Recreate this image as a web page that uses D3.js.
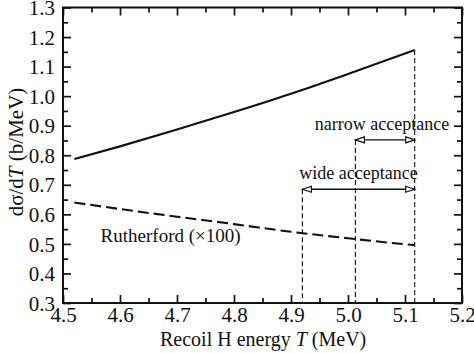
<!DOCTYPE html>
<html>
<head>
<meta charset="utf-8">
<script src="https://cdn.jsdelivr.net/npm/d3@7"></script>
<style>
  html, body { margin: 0; padding: 0; background: #fff; }
  svg { display: block; }
  text { font-family: "Liberation Serif", "Times New Roman", serif; fill: #111; }
</style>
</head>
<body>
<svg id="chart" width="474" height="353"></svg>
<script>
// ---- data ----
const energyT = [4.52, 4.6, 4.7, 4.8, 4.9, 5.0, 5.1, 5.117];
const crossSection = [0.787, 0.830, 0.887, 0.946, 1.008, 1.075, 1.144, 1.156];
const rutherfordX100 = [0.640, 0.618, 0.592, 0.567, 0.541, 0.519, 0.499, 0.496];
const xTicks = [4.5, 4.6, 4.7, 4.8, 4.9, 5.0, 5.1, 5.2];
const yTicks = [0.3, 0.4, 0.5, 0.6, 0.7, 0.8, 0.9, 1.0, 1.1, 1.2, 1.3];
const acceptances = [
  { label: "narrow acceptance", from: 5.013, to: 5.117, level: 0.852 },
  { label: "wide acceptance", from: 4.92, to: 5.117, level: 0.685 }
];
const rutherfordLabel = "Rutherford (\u00d7100)";
const rutherfordLabelPos = [4.566, 0.505];

// ---- layout ----
const W = 474, H = 353;
const m = { left: 63, right: 12, top: 7.5, bottom: 50 };
const svg = d3.select("#chart");
const x = d3.scaleLinear().domain([4.5, 5.2]).range([m.left, W - m.right]);
const y = d3.scaleLinear().domain([0.3, 1.3]).range([H - m.bottom, m.top]);

const minorX = d3.range(4.55, 5.2, 0.1);
const minorY = d3.range(0.35, 1.3, 0.1);
const fontTick = 21;

// axes (inward ticks)
function drawAxis(axisGen, transform, ticks, minor, showLabels) {
  const g = svg.append("g").attr("transform", transform);
  g.call(axisGen.tickValues(ticks).tickSizeInner(-8).tickSizeOuter(0)
    .tickFormat(showLabels ? d3.format(".1f") : () => ""));
  g.select(".domain").remove();
  g.selectAll(".tick line").attr("stroke", "#111").attr("stroke-width", 1.7);
  g.selectAll(".tick text").attr("font-size", fontTick)
    .attr("font-family", "Liberation Serif").attr("fill", "#111");
  const g2 = svg.append("g").attr("transform", transform);
  g2.call(axisGen.tickValues(minor).tickSizeInner(-5).tickSizeOuter(0).tickFormat(() => ""));
  g2.select(".domain").remove();
  g2.selectAll(".tick line").attr("stroke", "#111").attr("stroke-width", 1.7);
  return g;
}
const gx = drawAxis(d3.axisBottom(x), `translate(0,${H - m.bottom})`, xTicks, minorX, true);
gx.selectAll(".tick text").attr("dy", null).attr("y", 19);
drawAxis(d3.axisTop(x), `translate(0,${m.top})`, xTicks, minorX, false);
const gy = drawAxis(d3.axisLeft(y), `translate(${m.left},0)`, yTicks, minorY, true);
gy.selectAll(".tick text").attr("x", -8).attr("dy", "0.34em");
drawAxis(d3.axisRight(y), `translate(${W - m.right},0)`, yTicks, minorY, false);

// frame
svg.append("rect")
  .attr("x", m.left).attr("y", m.top)
  .attr("width", W - m.left - m.right).attr("height", H - m.top - m.bottom)
  .attr("fill", "none").attr("stroke", "#111").attr("stroke-width", 2);

// curves
const line = d3.line().x(d => x(d[0])).y(d => y(d[1])).curve(d3.curveMonotoneX);
svg.append("path")
  .datum(energyT.map((t, i) => [t, crossSection[i]]))
  .attr("d", line).attr("fill", "none").attr("stroke", "#111").attr("stroke-width", 2.1);
svg.append("path")
  .datum(energyT.map((t, i) => [t, rutherfordX100[i]]))
  .attr("d", line).attr("fill", "none").attr("stroke", "#111").attr("stroke-width", 2.1)
  .attr("stroke-dasharray", "11,5");

// vertical dashed lines
const tEnd = energyT[energyT.length - 1];
const vlines = [
  { t: tEnd, top: crossSection[crossSection.length - 1] },
  ...acceptances.map(a => ({ t: a.from, top: a.level }))
];
svg.selectAll(".vl").data(vlines).enter().append("line")
  .attr("x1", d => x(d.t)).attr("x2", d => x(d.t))
  .attr("y1", d => y(d.top)).attr("y2", y(0.3))
  .attr("stroke", "#111").attr("stroke-width", 1.1).attr("stroke-dasharray", "5,3");

// acceptance arrows
acceptances.forEach(a => {
  const x1 = x(a.from), x2 = x(a.to), yy = y(a.level);
  svg.append("line").attr("x1", x1).attr("x2", x2).attr("y1", yy).attr("y2", yy)
    .attr("stroke", "#111").attr("stroke-width", 1.3);
  const L = 9, hw = 3;
  svg.append("path")
    .attr("d", `M${x1},${yy}L${x1 + L},${yy - hw}L${x1 + L},${yy + hw}Z`)
    .attr("fill", "#fff").attr("stroke", "#111").attr("stroke-width", 1.2);
  svg.append("path")
    .attr("d", `M${x2},${yy}L${x2 - L},${yy - hw}L${x2 - L},${yy + hw}Z`)
    .attr("fill", "#fff").attr("stroke", "#111").attr("stroke-width", 1.2);
  svg.append("text")
    .attr("x", (x1 + x2) / 2 + (a.label.startsWith("narrow") ? -3 : 0))
    .attr("y", yy - 10)
    .attr("text-anchor", "middle").attr("font-size", 18).text(a.label);
});

// Rutherford label
svg.append("text")
  .attr("x", x(rutherfordLabelPos[0])).attr("y", y(rutherfordLabelPos[1]))
  .attr("font-size", 19).text(rutherfordLabel);

// axis titles
const xt = svg.append("text").attr("x", 160).attr("y", 346).attr("font-size", 20);
xt.append("tspan").text("Recoil H energy ");
xt.append("tspan").attr("font-style", "italic").text("T");
xt.append("tspan").text(" (MeV)");

const yt = svg.append("text")
  .attr("transform", `translate(23,152) rotate(-90)`)
  .attr("text-anchor", "middle").attr("font-size", 21);
yt.append("tspan").text("d\u03c3/d");
yt.append("tspan").attr("font-style", "italic").text("T");
yt.append("tspan").text(" (b/MeV)");
</script>
</body>
</html>
